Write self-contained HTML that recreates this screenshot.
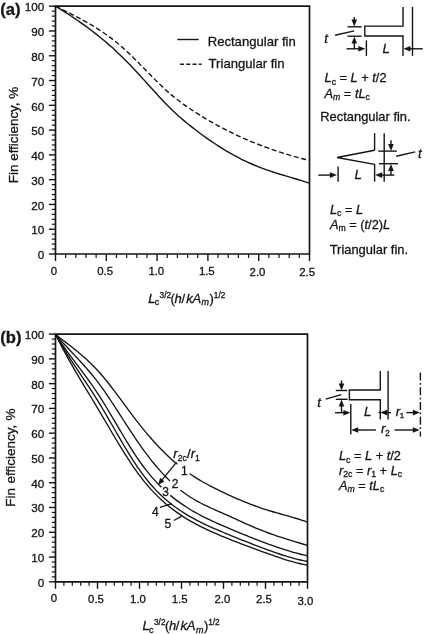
<!DOCTYPE html>
<html lang="en">
<head>
<meta charset="utf-8">
<title>Fin efficiency charts</title>
<style>
html,body{margin:0;padding:0;background:#fff;}
body{width:428px;height:634px;overflow:hidden;position:relative;}
svg{position:absolute;left:0;top:0;display:block;}
svg text{font-family:"Liberation Sans","DejaVu Sans",sans-serif;fill:#151515;stroke:#151515;stroke-width:0.3px;}
svg .i{font-style:italic;}
svg .b{font-weight:bold;}
svg line,svg path,svg polyline{stroke:#151515;fill:none;stroke-linecap:butt;}
svg .f{fill:#151515;stroke:none;}
</style>
</head>
<body>
<svg width="428" height="634" viewBox="0 0 428 634">
<rect x="0" y="0" width="428" height="634" fill="#fff" stroke="none"/>

<g id="panel-a">
<path d="M55.50 6.20 H309.50 V254.00 H55.50 Z" stroke-width="1.70"/>
<line x1="48.90" y1="254.00" x2="55.50" y2="254.00" stroke-width="1.40" />
<text x="44.20" y="259.20" font-size="11.70" text-anchor="end"  >0</text>
<line x1="51.80" y1="249.04" x2="55.50" y2="249.04" stroke-width="1.20" />
<line x1="51.80" y1="244.09" x2="55.50" y2="244.09" stroke-width="1.20" />
<line x1="51.80" y1="239.13" x2="55.50" y2="239.13" stroke-width="1.20" />
<line x1="51.80" y1="234.18" x2="55.50" y2="234.18" stroke-width="1.20" />
<line x1="48.90" y1="229.22" x2="55.50" y2="229.22" stroke-width="1.40" />
<text x="44.20" y="234.42" font-size="11.70" text-anchor="end"  >10</text>
<line x1="51.80" y1="224.26" x2="55.50" y2="224.26" stroke-width="1.20" />
<line x1="51.80" y1="219.31" x2="55.50" y2="219.31" stroke-width="1.20" />
<line x1="51.80" y1="214.35" x2="55.50" y2="214.35" stroke-width="1.20" />
<line x1="51.80" y1="209.40" x2="55.50" y2="209.40" stroke-width="1.20" />
<line x1="48.90" y1="204.44" x2="55.50" y2="204.44" stroke-width="1.40" />
<text x="44.20" y="209.64" font-size="11.70" text-anchor="end"  >20</text>
<line x1="51.80" y1="199.48" x2="55.50" y2="199.48" stroke-width="1.20" />
<line x1="51.80" y1="194.53" x2="55.50" y2="194.53" stroke-width="1.20" />
<line x1="51.80" y1="189.57" x2="55.50" y2="189.57" stroke-width="1.20" />
<line x1="51.80" y1="184.62" x2="55.50" y2="184.62" stroke-width="1.20" />
<line x1="48.90" y1="179.66" x2="55.50" y2="179.66" stroke-width="1.40" />
<text x="44.20" y="184.86" font-size="11.70" text-anchor="end"  >30</text>
<line x1="51.80" y1="174.70" x2="55.50" y2="174.70" stroke-width="1.20" />
<line x1="51.80" y1="169.75" x2="55.50" y2="169.75" stroke-width="1.20" />
<line x1="51.80" y1="164.79" x2="55.50" y2="164.79" stroke-width="1.20" />
<line x1="51.80" y1="159.84" x2="55.50" y2="159.84" stroke-width="1.20" />
<line x1="48.90" y1="154.88" x2="55.50" y2="154.88" stroke-width="1.40" />
<text x="44.20" y="160.08" font-size="11.70" text-anchor="end"  >40</text>
<line x1="51.80" y1="149.92" x2="55.50" y2="149.92" stroke-width="1.20" />
<line x1="51.80" y1="144.97" x2="55.50" y2="144.97" stroke-width="1.20" />
<line x1="51.80" y1="140.01" x2="55.50" y2="140.01" stroke-width="1.20" />
<line x1="51.80" y1="135.06" x2="55.50" y2="135.06" stroke-width="1.20" />
<line x1="48.90" y1="130.10" x2="55.50" y2="130.10" stroke-width="1.40" />
<text x="44.20" y="135.30" font-size="11.70" text-anchor="end"  >50</text>
<line x1="51.80" y1="125.14" x2="55.50" y2="125.14" stroke-width="1.20" />
<line x1="51.80" y1="120.19" x2="55.50" y2="120.19" stroke-width="1.20" />
<line x1="51.80" y1="115.23" x2="55.50" y2="115.23" stroke-width="1.20" />
<line x1="51.80" y1="110.28" x2="55.50" y2="110.28" stroke-width="1.20" />
<line x1="48.90" y1="105.32" x2="55.50" y2="105.32" stroke-width="1.40" />
<text x="44.20" y="110.52" font-size="11.70" text-anchor="end"  >60</text>
<line x1="51.80" y1="100.36" x2="55.50" y2="100.36" stroke-width="1.20" />
<line x1="51.80" y1="95.41" x2="55.50" y2="95.41" stroke-width="1.20" />
<line x1="51.80" y1="90.45" x2="55.50" y2="90.45" stroke-width="1.20" />
<line x1="51.80" y1="85.50" x2="55.50" y2="85.50" stroke-width="1.20" />
<line x1="48.90" y1="80.54" x2="55.50" y2="80.54" stroke-width="1.40" />
<text x="44.20" y="85.74" font-size="11.70" text-anchor="end"  >70</text>
<line x1="51.80" y1="75.58" x2="55.50" y2="75.58" stroke-width="1.20" />
<line x1="51.80" y1="70.63" x2="55.50" y2="70.63" stroke-width="1.20" />
<line x1="51.80" y1="65.67" x2="55.50" y2="65.67" stroke-width="1.20" />
<line x1="51.80" y1="60.72" x2="55.50" y2="60.72" stroke-width="1.20" />
<line x1="48.90" y1="55.76" x2="55.50" y2="55.76" stroke-width="1.40" />
<text x="44.20" y="60.96" font-size="11.70" text-anchor="end"  >80</text>
<line x1="51.80" y1="50.80" x2="55.50" y2="50.80" stroke-width="1.20" />
<line x1="51.80" y1="45.85" x2="55.50" y2="45.85" stroke-width="1.20" />
<line x1="51.80" y1="40.89" x2="55.50" y2="40.89" stroke-width="1.20" />
<line x1="51.80" y1="35.94" x2="55.50" y2="35.94" stroke-width="1.20" />
<line x1="48.90" y1="30.98" x2="55.50" y2="30.98" stroke-width="1.40" />
<text x="44.20" y="36.18" font-size="11.70" text-anchor="end"  >90</text>
<line x1="51.80" y1="26.02" x2="55.50" y2="26.02" stroke-width="1.20" />
<line x1="51.80" y1="21.07" x2="55.50" y2="21.07" stroke-width="1.20" />
<line x1="51.80" y1="16.11" x2="55.50" y2="16.11" stroke-width="1.20" />
<line x1="51.80" y1="11.16" x2="55.50" y2="11.16" stroke-width="1.20" />
<line x1="48.90" y1="6.20" x2="55.50" y2="6.20" stroke-width="1.40" />
<text x="44.20" y="11.40" font-size="11.70" text-anchor="end"  >100</text>
<line x1="55.50" y1="254.00" x2="55.50" y2="261.00" stroke-width="1.40" />
<line x1="65.66" y1="254.00" x2="65.66" y2="258.00" stroke-width="1.20" />
<line x1="75.82" y1="254.00" x2="75.82" y2="258.00" stroke-width="1.20" />
<line x1="85.98" y1="254.00" x2="85.98" y2="258.00" stroke-width="1.20" />
<line x1="96.14" y1="254.00" x2="96.14" y2="258.00" stroke-width="1.20" />
<line x1="106.30" y1="254.00" x2="106.30" y2="261.00" stroke-width="1.40" />
<line x1="116.46" y1="254.00" x2="116.46" y2="258.00" stroke-width="1.20" />
<line x1="126.62" y1="254.00" x2="126.62" y2="258.00" stroke-width="1.20" />
<line x1="136.78" y1="254.00" x2="136.78" y2="258.00" stroke-width="1.20" />
<line x1="146.94" y1="254.00" x2="146.94" y2="258.00" stroke-width="1.20" />
<line x1="157.10" y1="254.00" x2="157.10" y2="261.00" stroke-width="1.40" />
<line x1="167.26" y1="254.00" x2="167.26" y2="258.00" stroke-width="1.20" />
<line x1="177.42" y1="254.00" x2="177.42" y2="258.00" stroke-width="1.20" />
<line x1="187.58" y1="254.00" x2="187.58" y2="258.00" stroke-width="1.20" />
<line x1="197.74" y1="254.00" x2="197.74" y2="258.00" stroke-width="1.20" />
<line x1="207.90" y1="254.00" x2="207.90" y2="261.00" stroke-width="1.40" />
<line x1="218.06" y1="254.00" x2="218.06" y2="258.00" stroke-width="1.20" />
<line x1="228.22" y1="254.00" x2="228.22" y2="258.00" stroke-width="1.20" />
<line x1="238.38" y1="254.00" x2="238.38" y2="258.00" stroke-width="1.20" />
<line x1="248.54" y1="254.00" x2="248.54" y2="258.00" stroke-width="1.20" />
<line x1="258.70" y1="254.00" x2="258.70" y2="261.00" stroke-width="1.40" />
<line x1="268.86" y1="254.00" x2="268.86" y2="258.00" stroke-width="1.20" />
<line x1="279.02" y1="254.00" x2="279.02" y2="258.00" stroke-width="1.20" />
<line x1="289.18" y1="254.00" x2="289.18" y2="258.00" stroke-width="1.20" />
<line x1="299.34" y1="254.00" x2="299.34" y2="258.00" stroke-width="1.20" />
<line x1="309.50" y1="254.00" x2="309.50" y2="261.00" stroke-width="1.40" />
<text x="53.80" y="275.20" font-size="11.40" text-anchor="middle"  >0</text>
<text x="105.10" y="275.20" font-size="11.40" text-anchor="middle"  >0.5</text>
<text x="156.30" y="275.20" font-size="11.40" text-anchor="middle"  >1.0</text>
<text x="206.80" y="275.20" font-size="11.40" text-anchor="middle"  >1.5</text>
<text x="257.50" y="275.80" font-size="11.40" text-anchor="middle"  >2.0</text>
<text x="307.10" y="275.80" font-size="11.40" text-anchor="middle"  >2.5</text>
<text x="0.30" y="14.90" font-size="16.60" text-anchor="start" class="b" >(a)</text>
<text transform="translate(17.9,135) rotate(-90)" font-size="13.4" text-anchor="middle">Fin efficiency, %</text>
<text x="148.20" y="302.60" font-size="13.00" text-anchor="start" class="i" >L</text>
<text x="154.70" y="305.20" font-size="9.00" text-anchor="start"  >c</text>
<text x="159.60" y="297.50" font-size="8.30" text-anchor="start"  >3/2</text>
<text x="170.60" y="302.60" font-size="13.00" text-anchor="start"  >(</text>
<text x="174.60" y="302.60" font-size="13.00" text-anchor="start" class="i" >h</text>
<text x="181.40" y="302.60" font-size="13.00" text-anchor="start"  >/</text>
<text x="186.20" y="302.60" font-size="13.00" text-anchor="start" class="i" >k</text>
<text x="192.40" y="302.60" font-size="13.00" text-anchor="start" class="i" >A</text>
<text x="201.60" y="305.20" font-size="9.00" text-anchor="start" class="i" >m</text>
<text x="209.60" y="302.60" font-size="13.00" text-anchor="start"  >)</text>
<text x="213.80" y="297.50" font-size="8.30" text-anchor="start"  >1/2</text>
<path d="M55.50 6.20 C56.16 6.61 58.15 7.81 59.47 8.63 C60.79 9.45 62.11 10.28 63.44 11.11 C64.76 11.95 66.08 12.79 67.41 13.65 C68.73 14.50 70.05 15.36 71.38 16.24 C72.70 17.12 74.02 18.00 75.34 18.90 C76.67 19.80 77.99 20.71 79.31 21.63 C80.64 22.55 81.96 23.48 83.28 24.43 C84.60 25.38 85.93 26.34 87.25 27.31 C88.57 28.29 89.90 29.28 91.22 30.28 C92.54 31.29 93.86 32.31 95.19 33.34 C96.51 34.38 97.83 35.43 99.16 36.50 C100.48 37.57 101.80 38.65 103.12 39.76 C104.45 40.86 105.77 41.98 107.09 43.12 C108.42 44.26 109.74 45.42 111.06 46.60 C112.39 47.78 113.71 48.97 115.03 50.19 C116.35 51.41 117.68 52.65 119.00 53.91 C120.32 55.17 121.65 56.45 122.97 57.75 C124.29 59.05 125.61 60.38 126.94 61.72 C128.26 63.07 129.58 64.44 130.91 65.82 C132.23 67.21 133.55 68.61 134.88 70.03 C136.20 71.44 137.52 72.87 138.84 74.31 C140.17 75.75 141.49 77.20 142.81 78.65 C144.14 80.11 145.46 81.57 146.78 83.03 C148.10 84.50 149.43 85.97 150.75 87.43 C152.07 88.90 153.40 90.36 154.72 91.82 C156.04 93.28 157.36 94.74 158.69 96.18 C160.01 97.62 161.33 99.06 162.66 100.46 C163.98 101.87 165.30 103.26 166.62 104.61 C167.95 105.95 169.27 107.27 170.59 108.56 C171.92 109.85 173.24 111.10 174.56 112.32 C175.89 113.55 177.21 114.74 178.53 115.92 C179.85 117.09 181.18 118.23 182.50 119.36 C183.82 120.49 185.15 121.59 186.47 122.67 C187.79 123.76 189.11 124.82 190.44 125.87 C191.76 126.93 193.08 127.96 194.41 128.98 C195.73 130.01 197.05 131.02 198.38 132.01 C199.70 133.01 201.02 133.99 202.34 134.96 C203.67 135.92 204.99 136.88 206.31 137.82 C207.64 138.76 208.96 139.68 210.28 140.59 C211.60 141.50 212.93 142.40 214.25 143.28 C215.57 144.16 216.90 145.03 218.22 145.88 C219.54 146.73 220.86 147.56 222.19 148.38 C223.51 149.21 224.83 150.01 226.16 150.80 C227.48 151.59 228.80 152.36 230.12 153.12 C231.45 153.88 232.77 154.62 234.09 155.35 C235.42 156.07 236.74 156.78 238.06 157.48 C239.39 158.17 240.71 158.85 242.03 159.51 C243.35 160.17 244.68 160.81 246.00 161.44 C247.32 162.06 248.65 162.67 249.97 163.26 C251.29 163.86 252.61 164.43 253.94 164.99 C255.26 165.55 256.58 166.09 257.91 166.61 C259.23 167.13 260.55 167.64 261.88 168.13 C263.20 168.63 264.52 169.11 265.84 169.57 C267.17 170.04 268.49 170.50 269.81 170.94 C271.14 171.39 272.46 171.82 273.78 172.25 C275.10 172.67 276.43 173.09 277.75 173.50 C279.07 173.92 280.40 174.32 281.72 174.72 C283.04 175.12 284.36 175.52 285.69 175.92 C287.01 176.31 288.33 176.70 289.66 177.10 C290.98 177.49 292.30 177.88 293.62 178.27 C294.95 178.67 296.27 179.06 297.59 179.46 C298.92 179.86 300.24 180.26 301.56 180.67 C302.89 181.08 304.21 181.49 305.53 181.91 C306.85 182.33 308.84 182.99 309.50 183.20" stroke-width="1.4"/>
<path d="M55.50 6.20 C56.16 6.52 58.15 7.49 59.47 8.13 C60.79 8.78 62.11 9.42 63.44 10.07 C64.76 10.72 66.08 11.37 67.41 12.03 C68.73 12.69 70.05 13.36 71.38 14.03 C72.70 14.70 74.02 15.38 75.34 16.07 C76.67 16.76 77.99 17.45 79.31 18.16 C80.64 18.87 81.96 19.58 83.28 20.32 C84.60 21.05 85.93 21.79 87.25 22.55 C88.57 23.31 89.90 24.08 91.22 24.87 C92.54 25.66 93.86 26.47 95.19 27.29 C96.51 28.11 97.83 28.95 99.16 29.82 C100.48 30.68 101.80 31.56 103.12 32.46 C104.45 33.37 105.77 34.29 107.09 35.24 C108.42 36.19 109.74 37.16 111.06 38.16 C112.39 39.16 113.71 40.18 115.03 41.23 C116.35 42.28 117.68 43.36 119.00 44.47 C120.32 45.57 121.65 46.71 122.97 47.88 C124.29 49.04 125.61 50.24 126.94 51.47 C128.26 52.69 129.58 53.96 130.91 55.23 C132.23 56.51 133.55 57.82 134.88 59.13 C136.20 60.45 137.52 61.79 138.84 63.13 C140.17 64.48 141.49 65.83 142.81 67.19 C144.14 68.55 145.46 69.92 146.78 71.28 C148.10 72.63 149.43 74.00 150.75 75.35 C152.07 76.69 153.40 78.04 154.72 79.37 C156.04 80.69 157.36 82.01 158.69 83.30 C160.01 84.59 161.33 85.86 162.66 87.11 C163.98 88.35 165.30 89.57 166.62 90.75 C167.95 91.93 169.27 93.08 170.59 94.20 C171.92 95.32 173.24 96.40 174.56 97.46 C175.89 98.52 177.21 99.55 178.53 100.55 C179.85 101.56 181.18 102.54 182.50 103.49 C183.82 104.45 185.15 105.39 186.47 106.31 C187.79 107.23 189.11 108.13 190.44 109.01 C191.76 109.90 193.08 110.77 194.41 111.63 C195.73 112.49 197.05 113.34 198.38 114.17 C199.70 115.01 201.02 115.83 202.34 116.64 C203.67 117.45 204.99 118.25 206.31 119.04 C207.64 119.83 208.96 120.60 210.28 121.37 C211.60 122.13 212.93 122.88 214.25 123.62 C215.57 124.36 216.90 125.09 218.22 125.81 C219.54 126.53 220.86 127.23 222.19 127.93 C223.51 128.63 224.83 129.31 226.16 129.99 C227.48 130.66 228.80 131.32 230.12 131.98 C231.45 132.63 232.77 133.27 234.09 133.91 C235.42 134.54 236.74 135.16 238.06 135.78 C239.39 136.39 240.71 136.99 242.03 137.58 C243.35 138.18 244.68 138.76 246.00 139.33 C247.32 139.91 248.65 140.47 249.97 141.03 C251.29 141.58 252.61 142.13 253.94 142.66 C255.26 143.20 256.58 143.73 257.91 144.24 C259.23 144.76 260.55 145.27 261.88 145.77 C263.20 146.28 264.52 146.77 265.84 147.25 C267.17 147.74 268.49 148.21 269.81 148.68 C271.14 149.15 272.46 149.61 273.78 150.06 C275.10 150.51 276.43 150.95 277.75 151.39 C279.07 151.83 280.40 152.25 281.72 152.68 C283.04 153.10 284.36 153.51 285.69 153.92 C287.01 154.32 288.33 154.72 289.66 155.11 C290.98 155.51 292.30 155.89 293.62 156.27 C294.95 156.65 296.27 157.02 297.59 157.38 C298.92 157.75 300.24 158.11 301.56 158.46 C302.89 158.81 304.21 159.16 305.53 159.50 C306.85 159.84 308.84 160.33 309.50 160.50" stroke-width="1.4" stroke-dasharray="5 2.7"/>
<line x1="177.30" y1="39.50" x2="198.70" y2="39.50" stroke-width="1.40" />
<text x="207.70" y="45.50" font-size="13.10" text-anchor="start"  >Rectangular fin</text>
<line x1="180.10" y1="64.20" x2="201.60" y2="64.20" stroke-width="1.40" stroke-dasharray="4 2.2"/>
<text x="208.60" y="67.60" font-size="13.10" text-anchor="start"  >Triangular fin</text>
<path d="M403.0 7 V26.1 H364.8 V36.0 H403.0 V55.9" stroke-width="1.40"/>
<line x1="412.50" y1="7.00" x2="412.50" y2="55.90" stroke-width="1.40" />
<line x1="347.50" y1="26.80" x2="361.60" y2="26.80" stroke-width="1.40" />
<line x1="347.50" y1="36.20" x2="361.60" y2="36.20" stroke-width="1.40" />
<line x1="354.30" y1="17.00" x2="354.30" y2="20.60" stroke-width="1.40" />
<polygon class="f" points="354.30,26.60 351.50,19.60 357.10,19.60"/>
<line x1="354.30" y1="48.80" x2="354.30" y2="42.40" stroke-width="1.40" />
<polygon class="f" points="354.30,36.40 357.10,43.40 351.50,43.40"/>
<line x1="335.10" y1="35.30" x2="354.30" y2="30.90" stroke-width="1.40" />
<text x="324.20" y="42.90" font-size="13.30" text-anchor="start" class="i" >t</text>
<line x1="346.50" y1="48.80" x2="359.40" y2="48.80" stroke-width="1.40" />
<polygon class="f" points="365.40,48.80 358.40,51.60 358.40,46.00"/>
<line x1="366.40" y1="40.40" x2="366.40" y2="55.90" stroke-width="1.40" />
<line x1="422.80" y1="48.80" x2="409.40" y2="48.80" stroke-width="1.40" />
<polygon class="f" points="403.40,48.80 410.40,46.00 410.40,51.60"/>
<text x="382.60" y="52.90" font-size="13.30" text-anchor="start" class="i" >L</text>
<text x="324.50" y="82.40" font-size="12.80" text-anchor="start"  ><tspan class="i">L</tspan><tspan font-size="8.7" dy="2.4">c</tspan><tspan dy="-2.4"> </tspan>= <tspan class="i">L</tspan> + <tspan class="i">t</tspan>/2</text>
<text x="324.50" y="97.60" font-size="12.80" text-anchor="start"  ><tspan class="i">A</tspan><tspan font-size="8.7" dy="2.4" class="i">m</tspan><tspan dy="-2.4"> </tspan>= <tspan class="i">tL</tspan><tspan font-size="8.7" dy="2.4">c</tspan></text>
<text x="320.30" y="121.20" font-size="12.90" text-anchor="start"  >Rectangular fin.</text>
<line x1="374.60" y1="133.20" x2="374.60" y2="150.60" stroke-width="1.40" />
<line x1="374.60" y1="164.00" x2="374.60" y2="181.70" stroke-width="1.40" />
<line x1="384.20" y1="133.20" x2="384.20" y2="181.70" stroke-width="1.40" />
<path d="M374.6 150.2 L337 157.5 L374.6 164.4" stroke-width="1.40" stroke-linejoin="miter"/>
<line x1="378.20" y1="151.10" x2="396.80" y2="151.10" stroke-width="1.40" />
<line x1="379.00" y1="163.70" x2="398.00" y2="163.70" stroke-width="1.40" />
<line x1="391.00" y1="140.30" x2="391.00" y2="144.90" stroke-width="1.40" />
<polygon class="f" points="391.00,150.90 388.20,143.90 393.80,143.90"/>
<line x1="391.00" y1="175.10" x2="391.00" y2="169.90" stroke-width="1.40" />
<polygon class="f" points="391.00,163.90 393.80,170.90 388.20,170.90"/>
<line x1="396.20" y1="156.30" x2="415.20" y2="151.90" stroke-width="1.40" />
<text x="418.00" y="158.20" font-size="13.30" text-anchor="start" class="i" >t</text>
<line x1="394.40" y1="175.10" x2="381.20" y2="175.10" stroke-width="1.40" />
<polygon class="f" points="375.20,175.10 382.20,172.30 382.20,177.90"/>
<line x1="318.30" y1="175.10" x2="330.90" y2="175.10" stroke-width="1.40" />
<polygon class="f" points="336.90,175.10 329.90,177.90 329.90,172.30"/>
<line x1="338.10" y1="166.40" x2="338.10" y2="181.70" stroke-width="1.40" />
<text x="354.50" y="179.00" font-size="13.30" text-anchor="start" class="i" >L</text>
<text x="329.90" y="213.80" font-size="12.80" text-anchor="start"  ><tspan class="i">L</tspan><tspan font-size="8.7" dy="2.4">c</tspan><tspan dy="-2.4"> </tspan>= <tspan class="i">L</tspan></text>
<text x="329.90" y="228.50" font-size="12.80" text-anchor="start"  ><tspan class="i">A</tspan><tspan font-size="8.7" dy="2.4">m</tspan><tspan dy="-2.4"> </tspan>= (<tspan class="i">t</tspan>/2)<tspan class="i">L</tspan></text>
<text x="329.70" y="254.30" font-size="12.90" text-anchor="start"  >Triangular fin.</text>
</g>
<g id="panel-b">
<path d="M55.50 334.10 H307.50 V581.80 H55.50 Z" stroke-width="1.70"/>
<line x1="48.90" y1="581.80" x2="55.50" y2="581.80" stroke-width="1.40" />
<text x="44.20" y="586.80" font-size="11.70" text-anchor="end"  >0</text>
<line x1="51.80" y1="576.85" x2="55.50" y2="576.85" stroke-width="1.20" />
<line x1="51.80" y1="571.89" x2="55.50" y2="571.89" stroke-width="1.20" />
<line x1="51.80" y1="566.94" x2="55.50" y2="566.94" stroke-width="1.20" />
<line x1="51.80" y1="561.98" x2="55.50" y2="561.98" stroke-width="1.20" />
<line x1="48.90" y1="557.03" x2="55.50" y2="557.03" stroke-width="1.40" />
<text x="44.20" y="562.03" font-size="11.70" text-anchor="end"  >10</text>
<line x1="51.80" y1="552.08" x2="55.50" y2="552.08" stroke-width="1.20" />
<line x1="51.80" y1="547.12" x2="55.50" y2="547.12" stroke-width="1.20" />
<line x1="51.80" y1="542.17" x2="55.50" y2="542.17" stroke-width="1.20" />
<line x1="51.80" y1="537.21" x2="55.50" y2="537.21" stroke-width="1.20" />
<line x1="48.90" y1="532.26" x2="55.50" y2="532.26" stroke-width="1.40" />
<text x="44.20" y="537.26" font-size="11.70" text-anchor="end"  >20</text>
<line x1="51.80" y1="527.31" x2="55.50" y2="527.31" stroke-width="1.20" />
<line x1="51.80" y1="522.35" x2="55.50" y2="522.35" stroke-width="1.20" />
<line x1="51.80" y1="517.40" x2="55.50" y2="517.40" stroke-width="1.20" />
<line x1="51.80" y1="512.44" x2="55.50" y2="512.44" stroke-width="1.20" />
<line x1="48.90" y1="507.49" x2="55.50" y2="507.49" stroke-width="1.40" />
<text x="44.20" y="512.49" font-size="11.70" text-anchor="end"  >30</text>
<line x1="51.80" y1="502.54" x2="55.50" y2="502.54" stroke-width="1.20" />
<line x1="51.80" y1="497.58" x2="55.50" y2="497.58" stroke-width="1.20" />
<line x1="51.80" y1="492.63" x2="55.50" y2="492.63" stroke-width="1.20" />
<line x1="51.80" y1="487.67" x2="55.50" y2="487.67" stroke-width="1.20" />
<line x1="48.90" y1="482.72" x2="55.50" y2="482.72" stroke-width="1.40" />
<text x="44.20" y="487.72" font-size="11.70" text-anchor="end"  >40</text>
<line x1="51.80" y1="477.77" x2="55.50" y2="477.77" stroke-width="1.20" />
<line x1="51.80" y1="472.81" x2="55.50" y2="472.81" stroke-width="1.20" />
<line x1="51.80" y1="467.86" x2="55.50" y2="467.86" stroke-width="1.20" />
<line x1="51.80" y1="462.90" x2="55.50" y2="462.90" stroke-width="1.20" />
<line x1="48.90" y1="457.95" x2="55.50" y2="457.95" stroke-width="1.40" />
<text x="44.20" y="462.95" font-size="11.70" text-anchor="end"  >50</text>
<line x1="51.80" y1="453.00" x2="55.50" y2="453.00" stroke-width="1.20" />
<line x1="51.80" y1="448.04" x2="55.50" y2="448.04" stroke-width="1.20" />
<line x1="51.80" y1="443.09" x2="55.50" y2="443.09" stroke-width="1.20" />
<line x1="51.80" y1="438.13" x2="55.50" y2="438.13" stroke-width="1.20" />
<line x1="48.90" y1="433.18" x2="55.50" y2="433.18" stroke-width="1.40" />
<text x="44.20" y="438.18" font-size="11.70" text-anchor="end"  >60</text>
<line x1="51.80" y1="428.23" x2="55.50" y2="428.23" stroke-width="1.20" />
<line x1="51.80" y1="423.27" x2="55.50" y2="423.27" stroke-width="1.20" />
<line x1="51.80" y1="418.32" x2="55.50" y2="418.32" stroke-width="1.20" />
<line x1="51.80" y1="413.36" x2="55.50" y2="413.36" stroke-width="1.20" />
<line x1="48.90" y1="408.41" x2="55.50" y2="408.41" stroke-width="1.40" />
<text x="44.20" y="413.41" font-size="11.70" text-anchor="end"  >70</text>
<line x1="51.80" y1="403.46" x2="55.50" y2="403.46" stroke-width="1.20" />
<line x1="51.80" y1="398.50" x2="55.50" y2="398.50" stroke-width="1.20" />
<line x1="51.80" y1="393.55" x2="55.50" y2="393.55" stroke-width="1.20" />
<line x1="51.80" y1="388.59" x2="55.50" y2="388.59" stroke-width="1.20" />
<line x1="48.90" y1="383.64" x2="55.50" y2="383.64" stroke-width="1.40" />
<text x="44.20" y="388.64" font-size="11.70" text-anchor="end"  >80</text>
<line x1="51.80" y1="378.69" x2="55.50" y2="378.69" stroke-width="1.20" />
<line x1="51.80" y1="373.73" x2="55.50" y2="373.73" stroke-width="1.20" />
<line x1="51.80" y1="368.78" x2="55.50" y2="368.78" stroke-width="1.20" />
<line x1="51.80" y1="363.82" x2="55.50" y2="363.82" stroke-width="1.20" />
<line x1="48.90" y1="358.87" x2="55.50" y2="358.87" stroke-width="1.40" />
<text x="44.20" y="363.87" font-size="11.70" text-anchor="end"  >90</text>
<line x1="51.80" y1="353.92" x2="55.50" y2="353.92" stroke-width="1.20" />
<line x1="51.80" y1="348.96" x2="55.50" y2="348.96" stroke-width="1.20" />
<line x1="51.80" y1="344.01" x2="55.50" y2="344.01" stroke-width="1.20" />
<line x1="51.80" y1="339.05" x2="55.50" y2="339.05" stroke-width="1.20" />
<line x1="48.90" y1="334.10" x2="55.50" y2="334.10" stroke-width="1.40" />
<text x="44.20" y="339.10" font-size="11.70" text-anchor="end"  >100</text>
<line x1="55.50" y1="581.80" x2="55.50" y2="588.80" stroke-width="1.40" />
<line x1="63.90" y1="581.80" x2="63.90" y2="585.80" stroke-width="1.20" />
<line x1="72.30" y1="581.80" x2="72.30" y2="585.80" stroke-width="1.20" />
<line x1="80.70" y1="581.80" x2="80.70" y2="585.80" stroke-width="1.20" />
<line x1="89.10" y1="581.80" x2="89.10" y2="585.80" stroke-width="1.20" />
<line x1="97.50" y1="581.80" x2="97.50" y2="588.80" stroke-width="1.40" />
<line x1="105.90" y1="581.80" x2="105.90" y2="585.80" stroke-width="1.20" />
<line x1="114.30" y1="581.80" x2="114.30" y2="585.80" stroke-width="1.20" />
<line x1="122.70" y1="581.80" x2="122.70" y2="585.80" stroke-width="1.20" />
<line x1="131.10" y1="581.80" x2="131.10" y2="585.80" stroke-width="1.20" />
<line x1="139.50" y1="581.80" x2="139.50" y2="588.80" stroke-width="1.40" />
<line x1="147.90" y1="581.80" x2="147.90" y2="585.80" stroke-width="1.20" />
<line x1="156.30" y1="581.80" x2="156.30" y2="585.80" stroke-width="1.20" />
<line x1="164.70" y1="581.80" x2="164.70" y2="585.80" stroke-width="1.20" />
<line x1="173.10" y1="581.80" x2="173.10" y2="585.80" stroke-width="1.20" />
<line x1="181.50" y1="581.80" x2="181.50" y2="588.80" stroke-width="1.40" />
<line x1="189.90" y1="581.80" x2="189.90" y2="585.80" stroke-width="1.20" />
<line x1="198.30" y1="581.80" x2="198.30" y2="585.80" stroke-width="1.20" />
<line x1="206.70" y1="581.80" x2="206.70" y2="585.80" stroke-width="1.20" />
<line x1="215.10" y1="581.80" x2="215.10" y2="585.80" stroke-width="1.20" />
<line x1="223.50" y1="581.80" x2="223.50" y2="588.80" stroke-width="1.40" />
<line x1="231.90" y1="581.80" x2="231.90" y2="585.80" stroke-width="1.20" />
<line x1="240.30" y1="581.80" x2="240.30" y2="585.80" stroke-width="1.20" />
<line x1="248.70" y1="581.80" x2="248.70" y2="585.80" stroke-width="1.20" />
<line x1="257.10" y1="581.80" x2="257.10" y2="585.80" stroke-width="1.20" />
<line x1="265.50" y1="581.80" x2="265.50" y2="588.80" stroke-width="1.40" />
<line x1="273.90" y1="581.80" x2="273.90" y2="585.80" stroke-width="1.20" />
<line x1="282.30" y1="581.80" x2="282.30" y2="585.80" stroke-width="1.20" />
<line x1="290.70" y1="581.80" x2="290.70" y2="585.80" stroke-width="1.20" />
<line x1="299.10" y1="581.80" x2="299.10" y2="585.80" stroke-width="1.20" />
<line x1="307.50" y1="581.80" x2="307.50" y2="588.80" stroke-width="1.40" />
<text x="53.90" y="602.30" font-size="11.40" text-anchor="middle"  >0</text>
<text x="96.00" y="602.60" font-size="11.40" text-anchor="middle"  >0.5</text>
<text x="138.00" y="602.60" font-size="11.40" text-anchor="middle"  >1.0</text>
<text x="179.60" y="602.60" font-size="11.40" text-anchor="middle"  >1.5</text>
<text x="222.40" y="603.30" font-size="11.40" text-anchor="middle"  >2.0</text>
<text x="264.00" y="602.60" font-size="11.40" text-anchor="middle"  >2.5</text>
<text x="305.40" y="604.80" font-size="11.40" text-anchor="middle"  >3.0</text>
<text x="0.30" y="342.80" font-size="16.60" text-anchor="start" class="b" >(b)</text>
<text transform="translate(14.9,457.5) rotate(-90)" font-size="13.5" text-anchor="middle" word-spacing="0.6">Fin efficiency, %</text>
<text x="142.60" y="629.90" font-size="13.00" text-anchor="start" class="i" >L</text>
<text x="149.10" y="632.50" font-size="9.00" text-anchor="start"  >c</text>
<text x="154.00" y="624.80" font-size="8.30" text-anchor="start"  >3/2</text>
<text x="165.00" y="629.90" font-size="13.00" text-anchor="start"  >(</text>
<text x="169.00" y="629.90" font-size="13.00" text-anchor="start" class="i" >h</text>
<text x="175.80" y="629.90" font-size="13.00" text-anchor="start"  >/</text>
<text x="180.60" y="629.90" font-size="13.00" text-anchor="start" class="i" >k</text>
<text x="186.80" y="629.90" font-size="13.00" text-anchor="start" class="i" >A</text>
<text x="196.00" y="632.50" font-size="9.00" text-anchor="start" class="i" >m</text>
<text x="204.00" y="629.90" font-size="13.00" text-anchor="start"  >)</text>
<text x="208.20" y="624.80" font-size="8.30" text-anchor="start"  >1/2</text>
<path d="M55.50 334.30 C56.16 334.82 58.12 336.38 59.43 337.41 C60.74 338.43 62.05 339.45 63.36 340.46 C64.68 341.48 65.99 342.48 67.30 343.50 C68.61 344.52 69.92 345.53 71.23 346.56 C72.54 347.59 73.85 348.63 75.16 349.68 C76.47 350.74 77.78 351.80 79.09 352.90 C80.40 353.99 81.72 355.10 83.03 356.25 C84.34 357.39 85.65 358.56 86.96 359.76 C88.27 360.97 89.58 362.21 90.89 363.49 C92.20 364.77 93.51 366.09 94.82 367.45 C96.13 368.82 97.44 370.24 98.75 371.70 C100.07 373.16 101.38 374.68 102.69 376.23 C104.00 377.78 105.31 379.38 106.62 381.01 C107.93 382.63 109.24 384.30 110.55 385.98 C111.86 387.67 113.17 389.39 114.48 391.12 C115.79 392.85 117.11 394.60 118.42 396.36 C119.73 398.12 121.04 399.89 122.35 401.67 C123.66 403.44 124.97 405.22 126.28 407.00 C127.59 408.77 128.90 410.55 130.21 412.30 C131.52 414.06 132.83 415.81 134.15 417.54 C135.46 419.27 136.77 420.98 138.08 422.66 C139.39 424.34 140.70 426.00 142.01 427.63 C143.32 429.25 144.63 430.85 145.94 432.42 C147.25 433.99 148.56 435.52 149.87 437.03 C151.18 438.54 152.50 440.02 153.81 441.47 C155.12 442.92 156.43 444.34 157.74 445.73 C159.05 447.12 160.36 448.47 161.67 449.80 C162.98 451.13 164.29 452.43 165.60 453.70 C166.91 454.97 168.22 456.21 169.54 457.42 C170.85 458.63 172.16 459.80 173.47 460.95 C174.78 462.10 176.74 463.74 177.40 464.30" stroke-width="1.35"/>
<path d="M189.50 473.47 C190.16 473.91 192.12 475.26 193.43 476.12 C194.74 476.97 196.06 477.80 197.37 478.61 C198.68 479.42 199.99 480.21 201.30 480.98 C202.61 481.75 203.92 482.50 205.23 483.23 C206.54 483.96 207.86 484.67 209.17 485.38 C210.48 486.08 211.79 486.76 213.10 487.43 C214.41 488.10 215.72 488.76 217.03 489.41 C218.34 490.06 219.66 490.70 220.97 491.33 C222.28 491.96 223.59 492.58 224.90 493.20 C226.21 493.81 227.52 494.42 228.83 495.02 C230.14 495.62 231.46 496.22 232.77 496.80 C234.08 497.39 235.39 497.97 236.70 498.54 C238.01 499.10 239.32 499.67 240.63 500.22 C241.94 500.77 243.26 501.31 244.57 501.85 C245.88 502.38 247.19 502.90 248.50 503.42 C249.81 503.93 251.12 504.44 252.43 504.93 C253.74 505.43 255.06 505.91 256.37 506.38 C257.68 506.85 258.99 507.32 260.30 507.77 C261.61 508.22 262.92 508.66 264.23 509.08 C265.54 509.51 266.86 509.92 268.17 510.33 C269.48 510.73 270.79 511.12 272.10 511.51 C273.41 511.90 274.72 512.27 276.03 512.65 C277.34 513.02 278.66 513.39 279.97 513.76 C281.28 514.13 282.59 514.49 283.90 514.86 C285.21 515.22 286.52 515.59 287.83 515.96 C289.14 516.33 290.46 516.70 291.77 517.08 C293.08 517.46 294.39 517.84 295.70 518.24 C297.01 518.63 298.32 519.04 299.63 519.45 C300.94 519.87 302.26 520.29 303.57 520.73 C304.88 521.17 306.84 521.87 307.50 522.10" stroke-width="1.35"/>
<path d="M55.50 334.30 C56.16 335.06 58.13 337.35 59.44 338.84 C60.76 340.33 62.07 341.78 63.39 343.22 C64.70 344.66 66.02 346.08 67.33 347.49 C68.65 348.90 69.96 350.30 71.28 351.70 C72.59 353.10 73.91 354.49 75.22 355.90 C76.54 357.30 77.85 358.70 79.17 360.13 C80.48 361.55 81.80 362.98 83.11 364.44 C84.43 365.91 85.74 367.38 87.06 368.89 C88.37 370.41 89.69 371.94 91.00 373.53 C92.32 375.11 93.63 376.72 94.95 378.39 C96.26 380.06 97.58 381.77 98.89 383.53 C100.21 385.29 101.52 387.11 102.84 388.96 C104.15 390.81 105.47 392.71 106.78 394.63 C108.10 396.55 109.41 398.52 110.73 400.50 C112.04 402.48 113.36 404.49 114.67 406.50 C115.99 408.52 117.30 410.56 118.62 412.60 C119.93 414.64 121.25 416.70 122.56 418.75 C123.88 420.79 125.19 422.85 126.51 424.88 C127.82 426.92 129.14 428.95 130.45 430.96 C131.77 432.96 133.08 434.96 134.40 436.92 C135.71 438.89 137.03 440.83 138.34 442.73 C139.66 444.63 140.97 446.50 142.29 448.33 C143.60 450.16 144.92 451.96 146.23 453.71 C147.55 455.46 148.86 457.18 150.18 458.85 C151.49 460.53 152.81 462.17 154.12 463.76 C155.44 465.36 156.75 466.92 158.07 468.43 C159.38 469.95 160.70 471.42 162.01 472.86 C163.33 474.29 164.64 475.68 165.96 477.03 C167.27 478.38 169.24 480.30 169.90 480.96" stroke-width="1.35"/>
<path d="M180.30 490.05 C180.96 490.55 182.95 492.09 184.28 493.04 C185.60 494.00 186.93 494.91 188.25 495.78 C189.57 496.66 190.90 497.49 192.23 498.29 C193.55 499.10 194.88 499.86 196.20 500.61 C197.53 501.35 198.85 502.06 200.18 502.76 C201.50 503.45 202.83 504.12 204.15 504.77 C205.47 505.42 206.80 506.05 208.12 506.67 C209.45 507.29 210.78 507.90 212.10 508.50 C213.43 509.09 214.75 509.68 216.08 510.27 C217.40 510.85 218.73 511.43 220.05 512.02 C221.38 512.60 222.70 513.19 224.03 513.78 C225.35 514.37 226.68 514.96 228.00 515.56 C229.32 516.16 230.65 516.76 231.98 517.37 C233.30 517.97 234.62 518.57 235.95 519.18 C237.27 519.78 238.60 520.39 239.93 520.99 C241.25 521.60 242.58 522.20 243.90 522.79 C245.22 523.39 246.55 523.99 247.88 524.57 C249.20 525.16 250.53 525.74 251.85 526.32 C253.18 526.89 254.50 527.46 255.82 528.02 C257.15 528.58 258.48 529.13 259.80 529.66 C261.12 530.20 262.45 530.73 263.77 531.24 C265.10 531.76 266.43 532.26 267.75 532.75 C269.07 533.23 270.40 533.71 271.73 534.17 C273.05 534.64 274.38 535.09 275.70 535.54 C277.02 535.98 278.35 536.42 279.68 536.85 C281.00 537.28 282.32 537.70 283.65 538.12 C284.97 538.54 286.30 538.95 287.62 539.36 C288.95 539.77 290.28 540.18 291.60 540.58 C292.93 540.99 294.25 541.39 295.57 541.80 C296.90 542.20 298.23 542.60 299.55 543.01 C300.88 543.42 302.20 543.83 303.52 544.24 C304.85 544.66 306.84 545.29 307.50 545.50" stroke-width="1.35"/>
<path d="M55.50 334.30 C56.15 335.30 58.12 338.35 59.43 340.31 C60.73 342.26 62.04 344.16 63.35 346.04 C64.66 347.91 65.97 349.74 67.28 351.55 C68.59 353.37 69.90 355.14 71.20 356.91 C72.51 358.68 73.82 360.43 75.13 362.17 C76.44 363.92 77.75 365.65 79.06 367.40 C80.36 369.14 81.67 370.88 82.98 372.64 C84.29 374.40 85.60 376.16 86.91 377.96 C88.22 379.75 89.52 381.56 90.83 383.41 C92.14 385.26 93.45 387.13 94.76 389.06 C96.07 390.98 97.38 392.95 98.69 394.96 C99.99 396.97 101.30 399.04 102.61 401.13 C103.92 403.23 105.23 405.37 106.54 407.52 C107.85 409.67 109.15 411.86 110.46 414.06 C111.77 416.25 113.08 418.47 114.39 420.69 C115.70 422.90 117.01 425.13 118.31 427.35 C119.62 429.56 120.93 431.78 122.24 433.98 C123.55 436.17 124.86 438.36 126.17 440.51 C127.48 442.67 128.78 444.80 130.09 446.90 C131.40 448.99 132.71 451.05 134.02 453.06 C135.33 455.07 136.64 457.04 137.94 458.95 C139.25 460.86 140.56 462.71 141.87 464.50 C143.18 466.29 144.49 468.03 145.80 469.70 C147.10 471.38 148.41 473.00 149.72 474.57 C151.03 476.14 152.34 477.65 153.65 479.12 C154.96 480.59 156.27 482.00 157.57 483.37 C158.88 484.74 160.85 486.68 161.50 487.34" stroke-width="1.35"/>
<path d="M170.20 495.22 C170.85 495.75 172.82 497.37 174.12 498.40 C175.43 499.43 176.74 500.41 178.05 501.37 C179.35 502.34 180.66 503.26 181.97 504.16 C183.28 505.06 184.58 505.93 185.89 506.78 C187.20 507.62 188.51 508.44 189.81 509.23 C191.12 510.03 192.43 510.80 193.74 511.55 C195.04 512.30 196.35 513.03 197.66 513.74 C198.97 514.45 200.28 515.14 201.58 515.81 C202.89 516.49 204.20 517.15 205.51 517.79 C206.81 518.44 208.12 519.06 209.43 519.68 C210.74 520.30 212.04 520.91 213.35 521.51 C214.66 522.11 215.97 522.69 217.27 523.28 C218.58 523.86 219.89 524.43 221.20 525.01 C222.50 525.58 223.81 526.14 225.12 526.71 C226.43 527.27 227.74 527.83 229.04 528.39 C230.35 528.95 231.66 529.51 232.97 530.06 C234.27 530.61 235.58 531.16 236.89 531.71 C238.20 532.25 239.50 532.79 240.81 533.33 C242.12 533.87 243.43 534.40 244.73 534.93 C246.04 535.47 247.35 535.99 248.66 536.52 C249.96 537.04 251.27 537.56 252.58 538.07 C253.89 538.59 255.20 539.10 256.50 539.60 C257.81 540.11 259.12 540.61 260.43 541.11 C261.73 541.61 263.04 542.10 264.35 542.59 C265.66 543.08 266.96 543.56 268.27 544.04 C269.58 544.52 270.89 544.99 272.19 545.46 C273.50 545.92 274.81 546.38 276.12 546.84 C277.42 547.29 278.73 547.73 280.04 548.17 C281.35 548.61 282.66 549.04 283.96 549.46 C285.27 549.88 286.58 550.29 287.89 550.69 C289.19 551.09 290.50 551.48 291.81 551.85 C293.12 552.23 294.42 552.60 295.73 552.96 C297.04 553.31 298.35 553.66 299.65 553.98 C300.96 554.31 302.27 554.63 303.58 554.93 C304.88 555.24 306.85 555.66 307.50 555.80" stroke-width="1.35"/>
<path d="M55.50 334.30 C56.17 335.48 58.17 339.10 59.50 341.41 C60.83 343.72 62.17 345.96 63.50 348.16 C64.83 350.37 66.17 352.51 67.50 354.63 C68.83 356.74 70.17 358.81 71.50 360.87 C72.83 362.92 74.17 364.93 75.50 366.94 C76.83 368.95 78.17 370.93 79.50 372.92 C80.83 374.90 82.17 376.88 83.50 378.86 C84.83 380.85 86.17 382.83 87.50 384.84 C88.83 386.84 90.17 388.86 91.50 390.91 C92.83 392.95 94.17 395.02 95.50 397.13 C96.83 399.25 98.17 401.40 99.50 403.58 C100.83 405.77 102.17 408.00 103.50 410.25 C104.83 412.50 106.17 414.79 107.50 417.08 C108.83 419.38 110.17 421.70 111.50 424.01 C112.83 426.33 114.17 428.66 115.50 430.98 C116.83 433.30 118.17 435.62 119.50 437.92 C120.83 440.21 122.17 442.51 123.50 444.76 C124.83 447.02 126.17 449.26 127.50 451.45 C128.83 453.65 130.17 455.82 131.50 457.93 C132.83 460.04 134.17 462.12 135.50 464.12 C136.83 466.13 138.17 468.09 139.50 469.98 C140.83 471.86 142.17 473.68 143.50 475.44 C144.83 477.19 146.17 478.88 147.50 480.52 C148.83 482.15 150.17 483.72 151.50 485.23 C152.83 486.75 154.17 488.20 155.50 489.61 C156.83 491.02 158.17 492.37 159.50 493.67 C160.83 494.98 162.17 496.23 163.50 497.44 C164.83 498.65 166.17 499.81 167.50 500.94 C168.83 502.06 170.17 503.14 171.50 504.19 C172.83 505.23 174.17 506.24 175.50 507.21 C176.83 508.18 178.17 509.12 179.50 510.03 C180.83 510.93 182.17 511.81 183.50 512.66 C184.83 513.51 186.17 514.33 187.50 515.13 C188.83 515.93 190.17 516.71 191.50 517.46 C192.83 518.21 194.17 518.94 195.50 519.65 C196.83 520.36 198.17 521.05 199.50 521.72 C200.83 522.40 202.17 523.05 203.50 523.69 C204.83 524.33 206.17 524.96 207.50 525.57 C208.83 526.19 210.17 526.79 211.50 527.38 C212.83 527.97 214.17 528.55 215.50 529.12 C216.83 529.70 218.17 530.26 219.50 530.83 C220.83 531.39 222.17 531.94 223.50 532.50 C224.83 533.05 226.17 533.61 227.50 534.16 C228.83 534.70 230.17 535.25 231.50 535.80 C232.83 536.34 234.17 536.88 235.50 537.42 C236.83 537.96 238.17 538.50 239.50 539.03 C240.83 539.56 242.17 540.09 243.50 540.62 C244.83 541.15 246.17 541.67 247.50 542.19 C248.83 542.71 250.17 543.23 251.50 543.75 C252.83 544.26 254.17 544.77 255.50 545.28 C256.83 545.79 258.17 546.30 259.50 546.80 C260.83 547.30 262.17 547.80 263.50 548.29 C264.83 548.79 266.17 549.28 267.50 549.77 C268.83 550.26 270.17 550.74 271.50 551.22 C272.83 551.69 274.17 552.17 275.50 552.63 C276.83 553.09 278.17 553.55 279.50 553.99 C280.83 554.44 282.17 554.88 283.50 555.30 C284.83 555.73 286.17 556.14 287.50 556.54 C288.83 556.95 290.17 557.34 291.50 557.71 C292.83 558.08 294.17 558.44 295.50 558.79 C296.83 559.13 298.17 559.46 299.50 559.77 C300.83 560.08 302.17 560.37 303.50 560.64 C304.83 560.92 306.83 561.27 307.50 561.40" stroke-width="1.35"/>
<path d="M55.50 334.30 C56.17 335.63 58.17 339.68 59.50 342.28 C60.83 344.89 62.17 347.43 63.50 349.94 C64.83 352.44 66.17 354.89 67.50 357.30 C68.83 359.72 70.17 362.08 71.50 364.43 C72.83 366.77 74.17 369.07 75.50 371.36 C76.83 373.64 78.17 375.89 79.50 378.13 C80.83 380.38 82.17 382.59 83.50 384.81 C84.83 387.02 86.17 389.22 87.50 391.42 C88.83 393.62 90.17 395.81 91.50 398.02 C92.83 400.22 94.17 402.42 95.50 404.65 C96.83 406.87 98.17 409.10 99.50 411.35 C100.83 413.59 102.17 415.86 103.50 418.12 C104.83 420.39 106.17 422.66 107.50 424.93 C108.83 427.20 110.17 429.47 111.50 431.73 C112.83 433.98 114.17 436.24 115.50 438.47 C116.83 440.70 118.17 442.93 119.50 445.12 C120.83 447.31 122.17 449.49 123.50 451.63 C124.83 453.77 126.17 455.88 127.50 457.95 C128.83 460.02 130.17 462.06 131.50 464.05 C132.83 466.04 134.17 467.99 135.50 469.88 C136.83 471.77 138.17 473.61 139.50 475.39 C140.83 477.17 142.17 478.89 143.50 480.56 C144.83 482.23 146.17 483.84 147.50 485.39 C148.83 486.95 150.17 488.45 151.50 489.91 C152.83 491.36 154.17 492.76 155.50 494.12 C156.83 495.48 158.17 496.79 159.50 498.05 C160.83 499.32 162.17 500.54 163.50 501.72 C164.83 502.91 166.17 504.05 167.50 505.15 C168.83 506.26 170.17 507.32 171.50 508.35 C172.83 509.39 174.17 510.38 175.50 511.35 C176.83 512.32 178.17 513.25 179.50 514.16 C180.83 515.07 182.17 515.95 183.50 516.81 C184.83 517.66 186.17 518.49 187.50 519.30 C188.83 520.10 190.17 520.88 191.50 521.65 C192.83 522.41 194.17 523.15 195.50 523.87 C196.83 524.59 198.17 525.29 199.50 525.97 C200.83 526.66 202.17 527.32 203.50 527.97 C204.83 528.62 206.17 529.26 207.50 529.88 C208.83 530.50 210.17 531.11 211.50 531.71 C212.83 532.30 214.17 532.89 215.50 533.46 C216.83 534.04 218.17 534.60 219.50 535.16 C220.83 535.72 222.17 536.27 223.50 536.82 C224.83 537.37 226.17 537.90 227.50 538.44 C228.83 538.98 230.17 539.51 231.50 540.03 C232.83 540.56 234.17 541.08 235.50 541.59 C236.83 542.11 238.17 542.62 239.50 543.13 C240.83 543.64 242.17 544.15 243.50 544.65 C244.83 545.16 246.17 545.65 247.50 546.15 C248.83 546.65 250.17 547.14 251.50 547.64 C252.83 548.13 254.17 548.62 255.50 549.11 C256.83 549.60 258.17 550.08 259.50 550.57 C260.83 551.05 262.17 551.54 263.50 552.02 C264.83 552.51 266.17 552.99 267.50 553.47 C268.83 553.95 270.17 554.44 271.50 554.91 C272.83 555.39 274.17 555.86 275.50 556.33 C276.83 556.79 278.17 557.26 279.50 557.71 C280.83 558.16 282.17 558.60 283.50 559.03 C284.83 559.46 286.17 559.89 287.50 560.29 C288.83 560.70 290.17 561.09 291.50 561.47 C292.83 561.85 294.17 562.21 295.50 562.56 C296.83 562.90 298.17 563.23 299.50 563.53 C300.83 563.84 302.17 564.12 303.50 564.38 C304.83 564.65 306.83 564.98 307.50 565.10" stroke-width="1.35"/>
<text x="173.30" y="458.30" font-size="13.30" text-anchor="start"  ><tspan class="i">r</tspan><tspan font-size="8.7" dy="2.4">2c</tspan><tspan dy="-2.4">/</tspan><tspan class="i">r</tspan><tspan font-size="8.7" dy="2.4">1</tspan></text>
<line x1="176.40" y1="462.40" x2="161.67" y2="480.41" stroke-width="1.30" />
<polygon class="f" points="158.00,484.90 160.14,477.86 164.47,481.41"/>
<text x="181.00" y="474.70" font-size="12.00" text-anchor="start"  >1</text>
<text x="171.80" y="488.40" font-size="12.00" text-anchor="start"  >2</text>
<text x="162.20" y="495.50" font-size="12.00" text-anchor="start"  >3</text>
<text x="151.90" y="515.90" font-size="12.00" text-anchor="start"  >4</text>
<text x="164.50" y="527.70" font-size="12.00" text-anchor="start"  >5</text>
<line x1="159.90" y1="507.40" x2="172.00" y2="503.60" stroke-width="1.20" />
<line x1="173.90" y1="520.50" x2="181.40" y2="516.40" stroke-width="1.20" />
<path d="M380.3 371 V390.0 H349.4 V399.7 H380.3 V419.6" stroke-width="1.40"/>
<line x1="388.10" y1="371.00" x2="388.10" y2="419.60" stroke-width="1.40" />
<line x1="420.40" y1="372.40" x2="420.40" y2="436.50" stroke-width="1.40" stroke-dasharray="8 2.5 1.8 2.5"/>
<line x1="335.80" y1="390.50" x2="347.20" y2="390.50" stroke-width="1.40" />
<line x1="335.80" y1="399.30" x2="347.60" y2="399.30" stroke-width="1.40" />
<line x1="341.50" y1="380.40" x2="341.50" y2="384.40" stroke-width="1.40" />
<polygon class="f" points="341.50,390.40 338.70,383.40 344.30,383.40"/>
<line x1="341.50" y1="412.70" x2="341.50" y2="405.50" stroke-width="1.40" />
<polygon class="f" points="341.50,399.50 344.30,406.50 338.70,406.50"/>
<line x1="325.70" y1="399.10" x2="341.30" y2="394.70" stroke-width="1.40" />
<text x="317.20" y="407.00" font-size="13.30" text-anchor="start" class="i" >t</text>
<line x1="335.00" y1="412.70" x2="344.40" y2="412.70" stroke-width="1.40" />
<polygon class="f" points="350.40,412.70 343.40,415.50 343.40,409.90"/>
<line x1="350.80" y1="404.00" x2="350.80" y2="434.40" stroke-width="1.40" />
<text x="364.00" y="416.40" font-size="13.30" text-anchor="start" class="i" >L</text>
<line x1="378.50" y1="412.60" x2="381.00" y2="412.60" stroke-width="1.40" />
<line x1="391.00" y1="412.60" x2="386.20" y2="412.60" stroke-width="1.40" />
<polygon class="f" points="380.20,412.60 387.20,409.80 387.20,415.40"/>
<text x="395.80" y="415.70" font-size="13.30" text-anchor="start"  ><tspan class="i">r</tspan><tspan font-size="8" dy="2.0" dx="-0.5">1</tspan></text>
<line x1="406.40" y1="412.60" x2="413.90" y2="412.60" stroke-width="1.40" />
<polygon class="f" points="419.90,412.60 412.90,415.40 412.90,409.80"/>
<line x1="375.90" y1="430.00" x2="357.20" y2="430.00" stroke-width="1.40" />
<polygon class="f" points="351.20,430.00 358.20,427.20 358.20,432.80"/>
<text x="381.00" y="433.10" font-size="13.30" text-anchor="start"  ><tspan class="i">r</tspan><tspan font-size="8.2" dy="3" dx="-0.3">2</tspan></text>
<line x1="394.60" y1="430.00" x2="413.80" y2="430.00" stroke-width="1.40" />
<polygon class="f" points="419.80,430.00 412.80,432.80 412.80,427.20"/>
<text x="338.90" y="460.20" font-size="12.80" text-anchor="start"  ><tspan class="i">L</tspan><tspan font-size="8.7" dy="2.4">c</tspan><tspan dy="-2.4"> </tspan>= <tspan class="i">L</tspan> + <tspan class="i">t</tspan>/2</text>
<text x="338.90" y="474.80" font-size="12.80" text-anchor="start"  ><tspan class="i">r</tspan><tspan font-size="8.7" dy="2.4">2c</tspan><tspan dy="-2.4"> = </tspan><tspan class="i">r</tspan><tspan font-size="8.7" dy="2.4">1</tspan><tspan dy="-2.4"> + </tspan><tspan class="i">L</tspan><tspan font-size="8.7" dy="2.4">c</tspan></text>
<text x="338.90" y="490.00" font-size="12.80" text-anchor="start"  ><tspan class="i">A</tspan><tspan font-size="8.7" dy="2.4" class="i">m</tspan><tspan dy="-2.4"> </tspan>= <tspan class="i">tL</tspan><tspan font-size="8.7" dy="2.4">c</tspan></text>
</g>
</svg>
</body>
</html>
